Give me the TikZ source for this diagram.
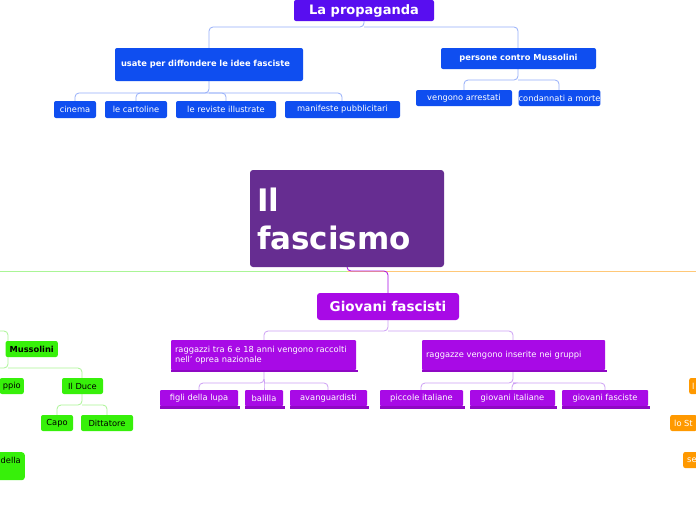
\documentclass[tikz,border=0pt]{standalone}
\usepackage{fontspec}
\setmainfont{DejaVu Sans}
\begin{document}
\begin{tikzpicture}[x=1pt,y=-1pt,
  bx/.style={fill=#1,rounded corners=2pt,inner sep=0pt,text=white},
  lnk/.style={draw=#1,line width=0.8pt,rounded corners=4pt}]
\definecolor{pb}{RGB}{88,14,240}
\definecolor{bl}{RGB}{15,78,240}
\definecolor{lb}{RGB}{150,175,250}
\definecolor{fa}{RGB}{102,45,145}
\definecolor{gv}{RGB}{168,10,230}
\definecolor{lv}{RGB}{205,160,245}
\definecolor{gr}{RGB}{55,240,10}
\definecolor{lg}{RGB}{170,245,150}
\definecolor{og}{RGB}{255,153,0}
\definecolor{lo}{RGB}{255,200,120}
\useasboundingbox (0,0) rectangle (696,520);
\fill[white] (0,0) rectangle (696,520);
% connectors
\draw[lnk=lb] (364,21) -- (364,27) -| (209,48);
\draw[lnk=lb] (364,27) -| (518,48);
\draw[lnk=lb] (209,81) -- (209,93) -| (75,101);
\draw[lnk=lb] (209,93) -| (136,101);
\draw[lnk=lb] (209,93) -| (226,101);
\draw[lnk=lb] (209,93) -| (342,101);
\draw[lnk=lb] (518,69) -- (518,80) -| (464,90);
\draw[lnk=lb] (518,80) -| (559,90);
\draw[line width=1pt,draw=lg] (0,271) -- (347,271);
\draw[line width=1pt,draw=lo] (347,271) -- (696,271);
\draw[lnk=gv] (347,267) -- (347,271) -| (388,293);
\draw[lnk=lv] (388,320) -- (388,331) -| (264,340);
\draw[lnk=lv] (388,331) -| (513,340);
\draw[lnk=lv] (264,372) -- (264,383) -| (199,390);
\draw[lnk=lv] (264,383) -| (264,390);
\draw[lnk=lv] (264,383) -| (328,390);
\draw[lnk=lv] (513,372) -- (513,383) -| (421,390);
\draw[lnk=lv] (513,383) -| (512,390);
\draw[lnk=lv] (513,383) -| (605,390);
\draw[lnk=lg] (0,331) -- (8,331) -- (8,341);
\draw[lnk=lg] (8,357) -- (8,368) -- (0,368);
\draw[lnk=lg] (8,368) -| (82,378);
\draw[lnk=lg] (82,394) -- (82,405) -| (57,415);
\draw[lnk=lg] (82,405) -| (107,415);
% top
\node[bx=pb,minimum width=140pt,minimum height=21pt,font=\bfseries\fontsize{13}{15}\selectfont] (prop) at (364,10.5) {La propaganda};
\node[bx=bl,minimum width=188pt,minimum height=33pt,text width=176pt,align=left,font=\bfseries\fontsize{8.3}{10}\selectfont] (usate) at (209,64.5) {usate per diffondere le idee fasciste};
\node[bx=bl,minimum width=155pt,minimum height=21pt,font=\bfseries\fontsize{8.3}{10}\selectfont] (pers) at (518.5,58.5) {persone contro Mussolini};
\foreach \n/\a/\b/\t in {cin/54/96/cinema,car/105/167/le cartoline,riv/176/276/le reviste illustrate,man/285/400/manifeste pubblicitari}
  \node[bx=bl,minimum width=\b pt-\a pt,minimum height=17pt,font=\fontsize{8.3}{10}\selectfont] (\n) at ({(\a+\b)/2},109.5) {\t};
\foreach \n/\a/\b/\t in {arr/416/512/vengono arrestati,mor/521/598/condannati a morte}
  \node[bx=bl,minimum width=\b pt-\a pt,minimum height=16pt,font=\fontsize{8.3}{10}\selectfont] (\n) at ({(\a+\b)/2},98) {\t};
% center
\node[bx=fa,rounded corners=3pt,minimum width=194pt,minimum height=97pt,text width=180pt,align=left,font=\bfseries\fontsize{31}{38}\selectfont] (fasc) at (347,218.5) {Il\\fascismo};
\node[bx=gv,rounded corners=3pt,minimum width=142pt,minimum height=27pt,font=\bfseries\fontsize{13.5}{16}\selectfont] (giov) at (388,306.5) {Giovani fascisti};
\foreach \n/\a/\b/\t in {rgz/171/356/{raggazzi tra 6 e 18 anni vengono raccolti nell' oprea nazionale},rge/422/605/{raggazze vengono inserite nei gruppi}}{
  \node[bx=gv,rounded corners=1pt,minimum width=\b pt-\a pt,minimum height=30pt,text width=\b pt-\a pt-8pt,align=left,font=\fontsize{8.3}{10}\selectfont] (\n) at ({(\a+\b)/2},355) {\t};
  \fill[gv!85!black] (\a,370) rectangle (\b+2,372);}
\foreach \n/\a/\b/\t in {fig/160/238/figli della lupa,bal/245/283/balilla,ava/290/367/avanguardisti,pic/380/463/piccole italiane,gi/470/555/giovani italiane,gf/562/648/giovani fasciste}{
  \node[bx=gv,rounded corners=1pt,minimum width=\b pt-\a pt,minimum height=16pt,font=\fontsize{8.3}{10}\selectfont] (\n) at ({(\a+\b)/2},398) {\t};
  \fill[gv!85!black] (\a,406) rectangle (\b+2,408.5);}
% green
\node[bx=gr,text=black,anchor=east,minimum height=16pt,inner xsep=4pt,font=\bfseries\fontsize{8.3}{10}\selectfont] (mus) at (58,349) {Mussolini};
\node[bx=gr,text=black,anchor=east,minimum height=16pt,inner xsep=3pt,font=\fontsize{8.3}{10}\selectfont] (pp) at (24,386) {ppio};
\node[bx=gr,text=black,minimum width=41pt,minimum height=16pt,font=\fontsize{8.3}{10}\selectfont] (duce) at (82.5,386) {Il Duce};
\node[bx=gr,text=black,minimum width=32pt,minimum height=16pt,font=\fontsize{8.3}{10}\selectfont] (capo) at (57,423) {Capo};
\node[bx=gr,text=black,minimum width=52pt,minimum height=16pt,font=\fontsize{8.3}{10}\selectfont] (dit) at (107,423) {Dittatore};
\node[bx=gr,text=black,rounded corners=3pt,anchor=north east,minimum height=28pt,text height=8pt,text depth=14pt,inner xsep=4pt,font=\fontsize{8.3}{10}\selectfont] (della) at (25,452) {della};
% orange
\node[bx=og,anchor=west,minimum height=16pt,inner xsep=3pt,text=white,font=\fontsize{8.3}{10}\selectfont] (o1) at (689,386) {l};
\node[bx=og,anchor=west,minimum height=16pt,inner xsep=4pt,font=\fontsize{8.3}{10}\selectfont] (o2) at (670,423) {lo St};
\node[bx=og,anchor=west,minimum height=16pt,inner xsep=4pt,font=\fontsize{8.3}{10}\selectfont] (o3) at (683,460) {se};
\end{tikzpicture}
\end{document}
